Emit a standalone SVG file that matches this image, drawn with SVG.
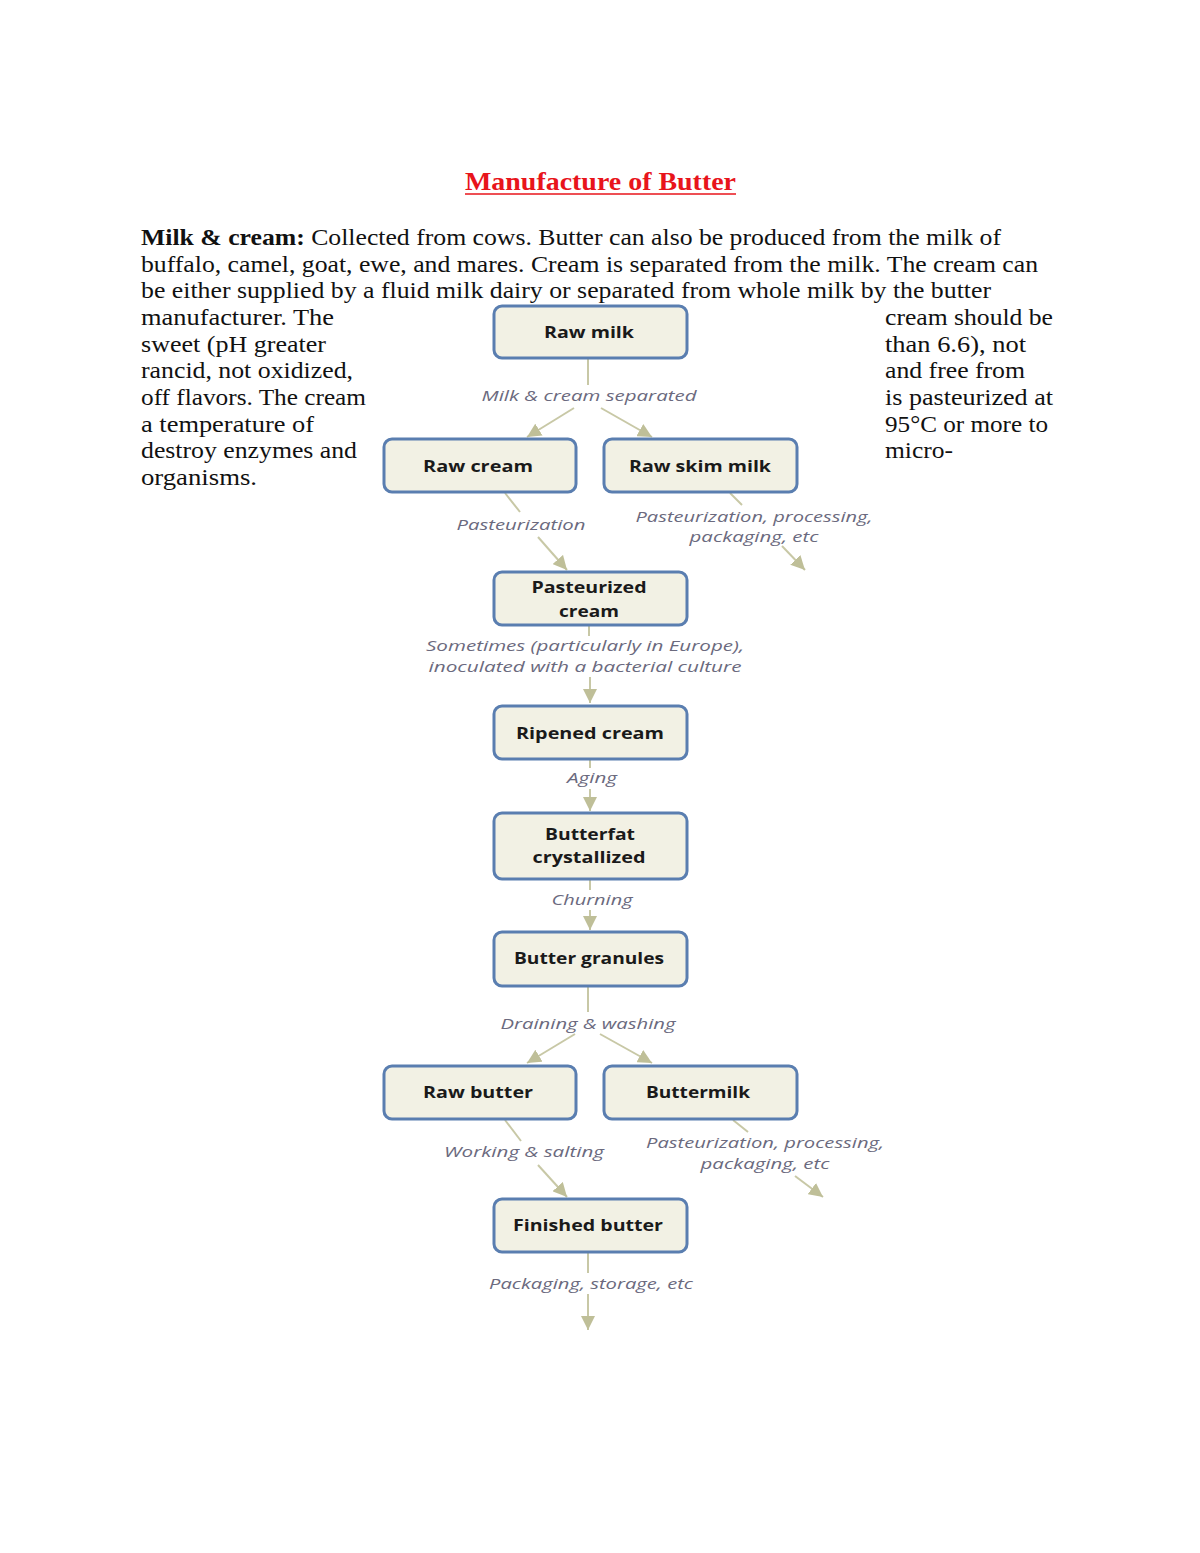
<svg xmlns="http://www.w3.org/2000/svg" width="1200" height="1553" viewBox="0 0 1200 1553">
<defs>
<style>
.body{font-family:"Liberation Serif",serif;font-size:24px;fill:#111}
.title{font-family:"Liberation Serif",serif;font-size:25px;font-weight:bold;fill:#e8141b}
.box{fill:#f2f1e4;stroke:#5a7eb0;stroke-width:3}
.bt{font-family:"Open Sans","DejaVu Sans",sans-serif;font-size:16px;font-weight:bold;fill:#1a1a1a;text-anchor:middle}
.lbl{font-family:"Open Sans","DejaVu Sans",sans-serif;font-size:14px;font-style:italic;fill:#6b6a7e;text-anchor:middle}
.con{stroke:#c8c8a6;stroke-width:2;fill:none}
</style>
<marker id="ah2" viewBox="0 0 10 10" refX="10" refY="5" markerWidth="14" markerHeight="14" markerUnits="userSpaceOnUse" orient="auto">
<path d="M0,0 L10,5 L0,10 z" fill="#bfbf98"/>
</marker>
</defs>
<rect width="1200" height="1553" fill="#fff"/>

<g id="text">
<text class="title" x="465" y="190" textLength="271" lengthAdjust="spacingAndGlyphs">Manufacture of Butter</text>
<line x1="465" y1="194" x2="736" y2="194" stroke="#e8141b" stroke-width="1.5"/>
<text class="body" x="141" y="245" textLength="860" lengthAdjust="spacingAndGlyphs"><tspan font-weight="bold">Milk &amp; cream:</tspan> Collected from cows. Butter can also be produced from the milk of</text>
<text class="body" x="141" y="271.7" textLength="897" lengthAdjust="spacingAndGlyphs">buffalo, camel, goat, ewe, and mares. Cream is separated from the milk. The cream can</text>
<text class="body" x="141" y="298.3" textLength="850" lengthAdjust="spacingAndGlyphs">be either supplied by a fluid milk dairy or separated from whole milk by the butter</text>
<text class="body" x="141" y="325" textLength="193" lengthAdjust="spacingAndGlyphs">manufacturer. The</text>
<text class="body" x="141" y="351.7" textLength="185" lengthAdjust="spacingAndGlyphs">sweet (pH greater</text>
<text class="body" x="141" y="378.3" textLength="212" lengthAdjust="spacingAndGlyphs">rancid, not oxidized,</text>
<text class="body" x="141" y="405" textLength="225" lengthAdjust="spacingAndGlyphs">off flavors. The cream</text>
<text class="body" x="141" y="431.7" textLength="173" lengthAdjust="spacingAndGlyphs">a temperature of</text>
<text class="body" x="141" y="458.3" textLength="216" lengthAdjust="spacingAndGlyphs">destroy enzymes and</text>
<text class="body" x="141" y="485" textLength="116" lengthAdjust="spacingAndGlyphs">organisms.</text>
<text class="body" x="885" y="325" textLength="168" lengthAdjust="spacingAndGlyphs">cream should be</text>
<text class="body" x="885" y="351.7" textLength="141" lengthAdjust="spacingAndGlyphs">than 6.6), not</text>
<text class="body" x="885" y="378.3" textLength="140" lengthAdjust="spacingAndGlyphs">and free from</text>
<text class="body" x="885" y="405" textLength="168" lengthAdjust="spacingAndGlyphs">is pasteurized at</text>
<text class="body" x="885" y="431.7" textLength="163" lengthAdjust="spacingAndGlyphs">95°C or more to</text>
<text class="body" x="885" y="458.3" textLength="68" lengthAdjust="spacingAndGlyphs">micro-</text>
</g>

<g id="connectors">
<line class="con" x1="588" y1="359" x2="588" y2="385"/>
<line class="con" x1="574" y1="408" x2="527" y2="437" marker-end="url(#ah2)"/>
<line class="con" x1="601" y1="408" x2="652" y2="437" marker-end="url(#ah2)"/>
<line class="con" x1="505" y1="493" x2="520" y2="512"/>
<line class="con" x1="538" y1="537" x2="567" y2="570" marker-end="url(#ah2)"/>
<line class="con" x1="730" y1="493" x2="742" y2="505"/>
<line class="con" x1="782" y1="546" x2="805" y2="570" marker-end="url(#ah2)"/>
<line class="con" x1="589" y1="626" x2="589" y2="636"/>
<line class="con" x1="590" y1="677" x2="590" y2="703" marker-end="url(#ah2)"/>
<line class="con" x1="590" y1="760" x2="590" y2="768"/>
<line class="con" x1="590" y1="789" x2="590" y2="811" marker-end="url(#ah2)"/>
<line class="con" x1="590" y1="880" x2="590" y2="890"/>
<line class="con" x1="590" y1="910" x2="590" y2="930" marker-end="url(#ah2)"/>
<line class="con" x1="588" y1="987" x2="588" y2="1012"/>
<line class="con" x1="575" y1="1034" x2="527" y2="1063" marker-end="url(#ah2)"/>
<line class="con" x1="600" y1="1034" x2="652" y2="1063" marker-end="url(#ah2)"/>
<line class="con" x1="505" y1="1120" x2="521" y2="1141"/>
<line class="con" x1="538" y1="1165" x2="567" y2="1197" marker-end="url(#ah2)"/>
<line class="con" x1="733" y1="1120" x2="748" y2="1132"/>
<line class="con" x1="795" y1="1176" x2="823" y2="1197" marker-end="url(#ah2)"/>
<line class="con" x1="588" y1="1253" x2="588" y2="1273"/>
<line class="con" x1="588" y1="1294" x2="588" y2="1330" marker-end="url(#ah2)"/>
</g>

<g id="labels">
<text class="lbl" x="589" y="401" textLength="215" lengthAdjust="spacingAndGlyphs">Milk &amp; cream separated</text>
<text class="lbl" x="521" y="530" textLength="129" lengthAdjust="spacingAndGlyphs">Pasteurization</text>
<text class="lbl" x="754" y="522" textLength="237" lengthAdjust="spacingAndGlyphs">Pasteurization, processing,</text>
<text class="lbl" x="754" y="542" textLength="129" lengthAdjust="spacingAndGlyphs">packaging, etc</text>
<text class="lbl" x="585" y="651" textLength="318" lengthAdjust="spacingAndGlyphs">Sometimes (particularly in Europe),</text>
<text class="lbl" x="585" y="672" textLength="313" lengthAdjust="spacingAndGlyphs">inoculated with a bacterial culture</text>
<text class="lbl" x="592" y="783" textLength="50" lengthAdjust="spacingAndGlyphs">Aging</text>
<text class="lbl" x="592" y="905" textLength="81" lengthAdjust="spacingAndGlyphs">Churning</text>
<text class="lbl" x="588" y="1029" textLength="175" lengthAdjust="spacingAndGlyphs">Draining &amp; washing</text>
<text class="lbl" x="524" y="1157" textLength="160" lengthAdjust="spacingAndGlyphs">Working &amp; salting</text>
<text class="lbl" x="765" y="1148" textLength="238" lengthAdjust="spacingAndGlyphs">Pasteurization, processing,</text>
<text class="lbl" x="765" y="1169" textLength="129" lengthAdjust="spacingAndGlyphs">packaging, etc</text>
<text class="lbl" x="591" y="1289" textLength="204" lengthAdjust="spacingAndGlyphs">Packaging, storage, etc</text>
</g>

<g id="n-raw-milk"><rect class="box" x="494" y="306" width="193" height="52" rx="8"/><text class="bt" x="589" y="338" textLength="90" lengthAdjust="spacingAndGlyphs">Raw milk</text></g>
<g id="n-raw-cream"><rect class="box" x="384" y="439" width="192" height="53" rx="8"/><text class="bt" x="478" y="472" textLength="110" lengthAdjust="spacingAndGlyphs">Raw cream</text></g>
<g id="n-raw-skim"><rect class="box" x="604" y="439" width="193" height="53" rx="8"/><text class="bt" x="700" y="472" textLength="142" lengthAdjust="spacingAndGlyphs">Raw skim milk</text></g>
<g id="n-past-cream"><rect class="box" x="494" y="572" width="193" height="53" rx="8"/><text class="bt" x="589" y="593" textLength="115" lengthAdjust="spacingAndGlyphs">Pasteurized</text><text class="bt" x="589" y="617" textLength="60" lengthAdjust="spacingAndGlyphs">cream</text></g>
<g id="n-ripened"><rect class="box" x="494" y="706" width="193" height="53" rx="8"/><text class="bt" x="590" y="739" textLength="148" lengthAdjust="spacingAndGlyphs">Ripened cream</text></g>
<g id="n-butterfat"><rect class="box" x="494" y="813" width="193" height="66" rx="8"/><text class="bt" x="590" y="840" textLength="90" lengthAdjust="spacingAndGlyphs">Butterfat</text><text class="bt" x="589" y="863" textLength="113" lengthAdjust="spacingAndGlyphs">crystallized</text></g>
<g id="n-granules"><rect class="box" x="494" y="932" width="193" height="54" rx="8"/><text class="bt" x="589" y="964" textLength="150" lengthAdjust="spacingAndGlyphs">Butter granules</text></g>
<g id="n-raw-butter"><rect class="box" x="384" y="1066" width="192" height="53" rx="8"/><text class="bt" x="478" y="1098" textLength="110" lengthAdjust="spacingAndGlyphs">Raw butter</text></g>
<g id="n-buttermilk"><rect class="box" x="604" y="1066" width="193" height="53" rx="8"/><text class="bt" x="698" y="1098" textLength="104" lengthAdjust="spacingAndGlyphs">Buttermilk</text></g>
<g id="n-finished"><rect class="box" x="494" y="1199" width="193" height="53" rx="8"/><text class="bt" x="588" y="1231" textLength="150" lengthAdjust="spacingAndGlyphs">Finished butter</text></g>
</svg>
